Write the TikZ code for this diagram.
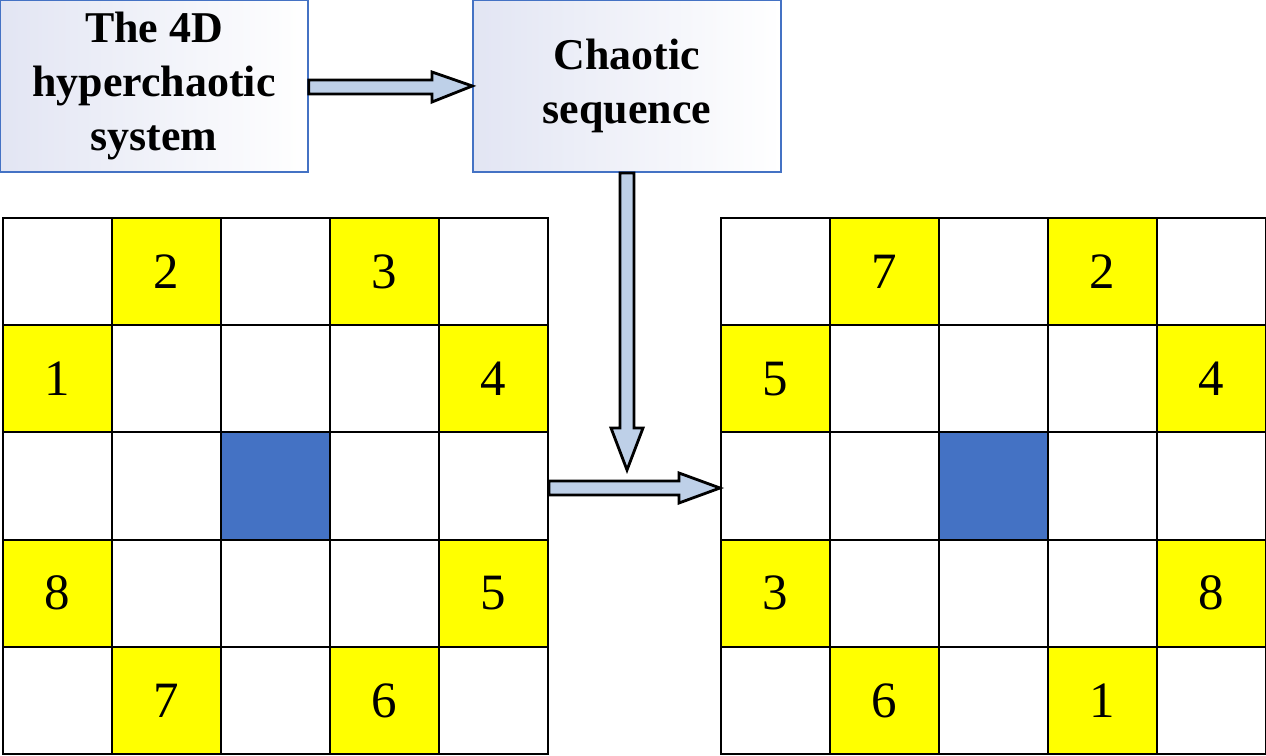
\documentclass[tikz,border=0pt]{standalone}
\usepackage{fontspec}
\setmainfont{Liberation Serif}
\usetikzlibrary{shapes.arrows,shadings}
\definecolor{bx}{RGB}{68,114,196}
\definecolor{lav}{RGB}{226,229,243}
\definecolor{arr}{RGB}{190,208,232}
\definecolor{yel}{RGB}{255,255,0}
\definecolor{blu}{RGB}{68,114,196}
\begin{document}
\begin{tikzpicture}[x=0.02cm,y=-0.02cm,
  box/.style={draw=bx,line width=0.8pt,minimum width=308*0.02cm,minimum height=172*0.02cm,inner sep=0pt,
    shading=axis,shading angle=135,left color=lav,right color=white,align=center,font=\fontsize{25}{31}\selectfont\bfseries},
  fat/.style={draw=black,line width=1.6pt,fill=arr},
  cell/.style={draw=black,line width=1.2pt,minimum width=109*0.02cm,minimum height=107.2*0.02cm,inner sep=0pt,font=\fontsize{29}{30}\selectfont},
  ycell/.style={fill=yel}, bcell/.style={fill=blu}]
\useasboundingbox (0,0) rectangle (1266,756);
\node[box] (sys) at (154,86) {The 4D\\hyperchaotic\\system};
\node[box] (seq) at (627,86) {Chaotic\\sequence};
% arrows
\draw[fat] (sys.east |- 0,80) -- (432,80) -- (432,72) -- (seq.west) -- (432,102) -- (432,94) -- (sys.east |- 0,94) -- cycle;
\draw[fat] (620,173) -- (620,428) -- (611,428) -- (627,470) -- (643,428) -- (634,428) -- (634,173) -- cycle;
% grids
\def\B{B}\def\E{}
\foreach \gx/\gn/\nums in {3/L/{{,2,,3,},{1,,,,4},{,,B,,},{8,,,,5},{,7,,6,}}, 721/R/{{,7,,2,},{5,,,,4},{,,B,,},{3,,,,8},{,6,,1,}}}{
  \foreach \row [count=\r from 0] in \nums {
    \foreach \v [count=\c from 0] in \row {
      \edef\tmp{\v}
      \ifx\tmp\E
        \node[cell] (\gn-\r-\c) at ({\gx+54.5+109*\c},{218+53.6+107.2*\r}) {};
      \else\ifx\tmp\B
        \node[cell,bcell] (\gn-\r-\c) at ({\gx+54.5+109*\c},{218+53.6+107.2*\r}) {};
      \else
        \node[cell,ycell] (\gn-\r-\c) at ({\gx+54.5+109*\c},{218+53.6+107.2*\r}) {\v};
      \fi\fi
    }
  }
}
\coordinate (gl) at (L-2-4.east);
\coordinate (gr) at (R-2-0.west);
\draw[fat] (gl |- 0,481) -- (679,481) -- (679,473) -- (gr |- 0,488) -- (679,503) -- (679,495) -- (gl |- 0,495) -- cycle;
\end{tikzpicture}
\end{document}
